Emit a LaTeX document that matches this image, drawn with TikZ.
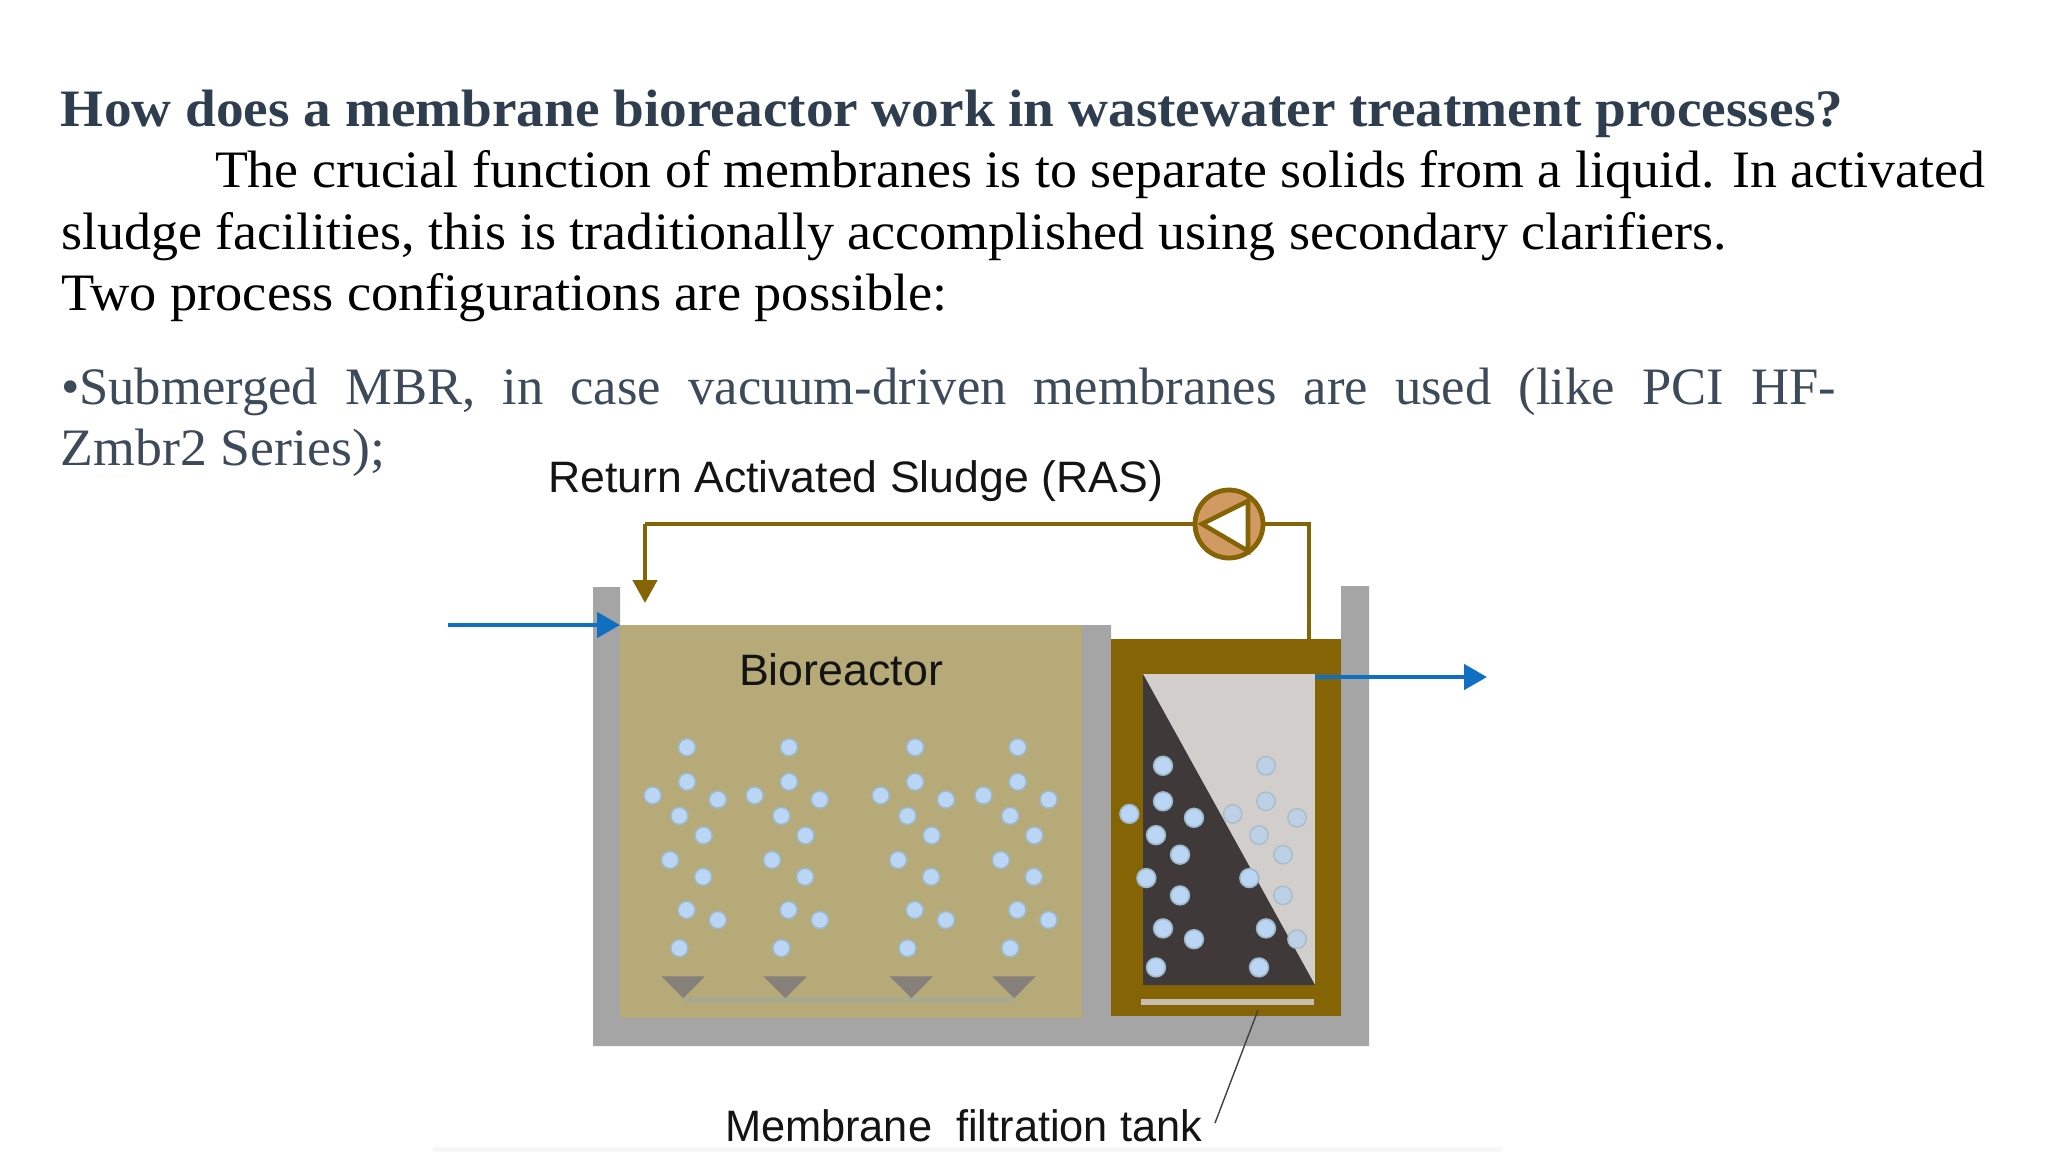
\documentclass[tikz,border=0pt]{standalone}
\usepackage{fontspec}
\usepackage{graphicx}
\setmainfont{Liberation Serif}
\setsansfont{Liberation Sans}
\usetikzlibrary{arrows.meta,shapes.geometric}
\definecolor{headcol}{HTML}{2F3E4E}
\definecolor{bulcol}{HTML}{3D4A59}
\definecolor{wallcol}{HTML}{A5A5A5}
\definecolor{tancol}{HTML}{B5AA78}
\definecolor{browncol}{HTML}{856405}
\definecolor{pumpcol}{HTML}{D09A62}
\definecolor{lightcol}{HTML}{D1CECC}
\definecolor{darkcol}{HTML}{3F3A39}
\definecolor{bubcol}{HTML}{BBD5F4}
\definecolor{bubring}{HTML}{9DB9C8}
\definecolor{bubpale}{HTML}{BDD0E6}
\definecolor{diffcol}{HTML}{85807A}
\definecolor{flowcol}{HTML}{0F6FC0}
\definecolor{aircol}{HTML}{A8AA8E}
\newcommand{\fitline}[2]{\resizebox{#1pt}{\height}{#2}}
\tikzset{
  txt/.style={anchor=base west,inner sep=0pt,outer sep=0pt},
  bodytxt/.style={txt,font=\rmfamily\fontsize{26.3}{30}\selectfont,text=black},
  bulltxt/.style={txt,font=\rmfamily\fontsize{26.3}{30}\selectfont,text=bulcol},
  headtxt/.style={txt,font=\rmfamily\bfseries\fontsize{26.3}{30}\selectfont,text=headcol},
  labeltxt/.style={txt,font=\sffamily\fontsize{22}{25}\selectfont,text=black!92},
  pipe/.style={draw=browncol,line width=2.3pt},
  flow/.style={draw=flowcol,line width=2.3pt,-{Triangle[length=11.5pt,width=12.5pt,fill=flowcol]}},
  pumpbody/.style={circle,draw=browncol,line width=2.4pt,fill=pumpcol,minimum size=34pt,inner sep=0pt},
  bubble/.style={fill=bubcol,draw=bubring,line width=0.8pt}
}
\begin{document}
\begin{tikzpicture}[x=0.5pt,y=-0.5pt]
\useasboundingbox (0,0) rectangle (2048,1152);
\fill[white] (0,0) rectangle (2048,1152);
\fill[black!3] (433,1147) rectangle (1502,1152);
% texts
\node[headtxt] (t1) at (61,126) {\fitline{891}{How does a membrane bioreactor work in wastewater treatment processes?}};
\node[bodytxt] (t2) at (215,187.3) {\fitline{885}{The crucial function of membranes is to separate solids from a liquid. In activated}};
\node[bodytxt] (t3) at (61,249) {\fitline{833}{sludge facilities, this is traditionally accomplished using secondary clarifiers.}};
\node[bodytxt] (t4) at (61,310.3) {\fitline{443.5}{Two process configurations are possible:}};
\node[bulltxt] (t5) at (61,404) {\makebox[887.5pt][s]{•Submerged MBR, in case vacuum-driven membranes are used (like PCI HF-}};
\node[bulltxt] (t6) at (61,465.5) {\fitline{162}{Zmbr2 Series);}};
% vessel
\fill[wallcol] (593,587) -- (620,587) -- (620,625) -- (1111,625) -- (1111,1016) -- (1341,1016) -- (1341,586) -- (1369,586) -- (1369,1046) -- (593,1046) -- cycle;
\fill[tancol] (620,625) rectangle (1082,1018);
\fill[browncol] (1111,639) rectangle (1341,1016);
\fill[lightcol] (1143,674) rectangle (1315,985);
\fill[darkcol] (1143,674) -- (1315,985) -- (1143,985) -- cycle;
\fill[lightcol!85!browncol] (1141,999) rectangle (1314,1005);
% air line and diffusers
\draw[aircol,line width=3.2pt] (683,1000) -- (1015,1000);
\foreach \d in {0,228.5,511,741}{
  \fill[diffcol] ({420+(541+\d)/2.24},{440+1180/2.2}) -- ({420+(638+\d)/2.24},{440+1180/2.2}) -- ({420+(590+\d)/2.24},{440+1228/2.2}) -- cycle;
  \foreach \x/\y in {598/676,598/752,521/782,667/791,581/827,635/870,560/924,634/961,597/1034,667/1056,581/1118}{
    \filldraw[bubble] ({420+(\x+\d)/2.24},{440+\y/2.2}) circle[radius=8.6];
  }
}
% membrane tank bubbles
\foreach \x/\y in {249/682,249/764,148/793,342/802,228/842,300/887,199/941,300/981,249/1057,342/1082,228/1147,508/941,558/1057,537/1147}{
  \filldraw[bubble] ({1080+\x/3},{470+\y/2.306}) circle[radius=9.4];
}
\foreach \x/\y in {558/682,558/764,458/793,651/802,537/842,609/887,609/981,651/1082}{
  \filldraw[fill=bubpale,draw=bubring!80!lightcol,line width=0.7pt] ({1080+\x/3},{470+\y/2.306}) circle[radius=9.2];
}
% pump and pipes
\node[pumpbody] (pump) at (1229,524) {};
\draw[browncol,line width=2.3pt,line join=miter,fill=white] (1202,524) -- (1248,501) -- (1248,551) -- cycle;
\coordinate (tanktop) at (1309,639);
\coordinate (elbowR) at (1309,524);
\coordinate (elbowL) at (645,524);
\coordinate (rasend) at (645,603);
\draw[pipe] (tanktop) -- (elbowR) -- (pump.east);
\draw[pipe] (pump.west) -- (elbowL);
\draw[draw=browncol,line width=2.3pt,-{Triangle[length=11.5pt,width=12pt,fill=browncol]}] (elbowL) -- (rasend);
% flows
\coordinate (inA) at (448,625);
\coordinate (inB) at (620,625);
\coordinate (outA) at (1315,677);
\coordinate (outB) at (1487,677);
\draw[flow] (inA) -- (inB);
\draw[flow] (outA) -- (outB);
% labels
\node[labeltxt] (ras) at (548,492.5) {\fitline{307.5}{Return Activated Sludge (RAS)}};
\node[labeltxt] (bio) at (739,685) {\fitline{102}{Bioreactor}};
\node[labeltxt] (mft) at (725,1141.5) {\fitline{238.5}{Membrane\ \ filtration tank}};
\coordinate (leadA) at (1258,1010);
\coordinate (leadB) at (1215,1123);
\draw[black!75,line width=0.7pt] (leadA) -- (leadB);
\end{tikzpicture}
\end{document}
